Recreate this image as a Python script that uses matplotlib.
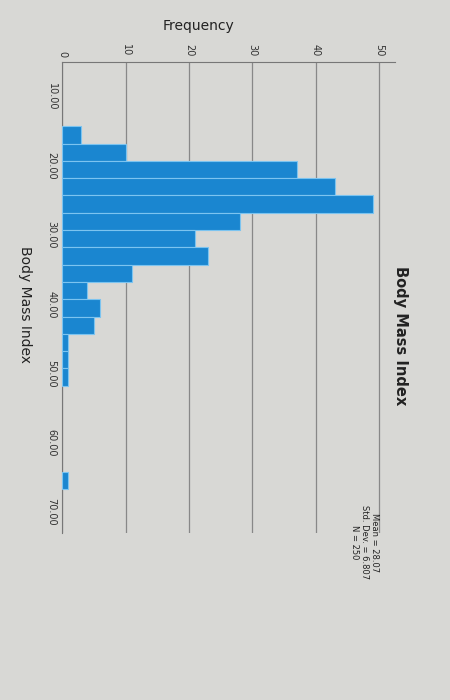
import matplotlib
matplotlib.use("Agg")
import matplotlib.pyplot as plt
import numpy as np

bin_start = 14.25
bin_width = 2.5
freqs = [3, 10, 37, 43, 49, 28, 21, 23, 11, 4, 6, 5, 1, 1, 1, 0, 0, 0, 0, 0, 1]
freq_ticks = [0, 10, 20, 30, 40, 50]
bmi_ticks = [10, 20, 30, 40, 50, 60, 70]
bmi_labels = ["10.00", "20.00", "30.00", "40.00", "50.00", "60.00", "70.00"]
stats_text = "Mean = 28.07\nStd. Dev. = 6.807\nN = 250"

bg = "#d8d8d5"
fig = plt.figure(figsize=(4.5, 7), dpi=100, facecolor=bg)
ax = fig.add_axes([0.138, 0.239, 0.74, 0.672], facecolor=bg)

freqs_arr = np.array(freqs)
lefts = bin_start + bin_width * np.arange(len(freqs))
mask = freqs_arr > 0
ax.barh(lefts[mask], freqs_arr[mask], height=bin_width, align="edge", color="#1a86d0",
        edgecolor="#7cc4f0", linewidth=0.8, zorder=3)

ax.set_xlim(0, 52.5)
ax.set_ylim(73, 5)
ax.xaxis.tick_top()
ax.set_xticks(freq_ticks)
ax.set_xticklabels([str(t) for t in freq_ticks], rotation=-90, fontsize=7, color="#333")
ax.set_yticks(bmi_ticks)
ax.set_yticklabels(bmi_labels, rotation=-90, fontsize=7, color="#333", va="center")
ax.tick_params(length=0, pad=4)
ax.grid(axis="x", color="#888", linewidth=0.9, zorder=0)
for s in ["right", "bottom"]:
    ax.spines[s].set_visible(False)
for s in ["left", "top"]:
    ax.spines[s].set_color("#777")

fig.text(0.44, 0.963, "Frequency", fontsize=10, color="#222", ha="center", va="center")
fig.text(0.055, 0.565, "Body Mass Index", fontsize=10, color="#222", rotation=-90,
         ha="center", va="center")
fig.text(0.89, 0.52, "Body Mass Index", fontsize=10.5, color="#222", rotation=-90,
         ha="center", va="center", fontweight="bold")
fig.text(0.81, 0.225, stats_text, fontsize=6, color="#222", rotation=-90,
         ha="center", va="center")

fig.savefig("out.png", dpi=100, facecolor=bg)
